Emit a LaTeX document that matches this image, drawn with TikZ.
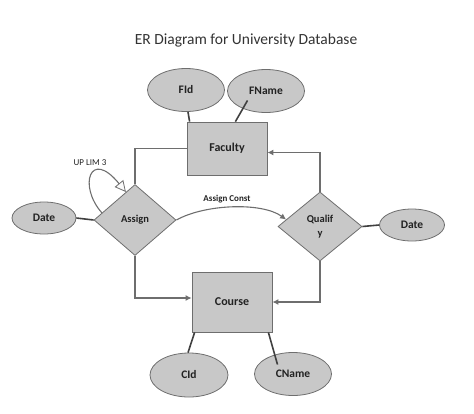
\documentclass[tikz,border=0pt]{standalone}
\usepackage{fontspec}
\setmainfont{Carlito}
\usetikzlibrary{shapes.geometric,arrows.meta,calc}
\definecolor{shapefill}{HTML}{C8C8C8}
\definecolor{edgecol}{HTML}{6E6E6E}
\definecolor{textcol}{HTML}{222222}
\tikzset{
  attr/.style={ellipse, draw=edgecol, fill=shapefill, line width=0.8pt, inner sep=0pt, font=\bfseries\fontsize{11.5}{13}\selectfont, text=textcol},
  entity/.style={rectangle, draw=edgecol, fill=shapefill, line width=0.8pt, inner sep=0pt, font=\bfseries\fontsize{12}{14}\selectfont, text=textcol},
  rel/.style={diamond, draw=edgecol, fill=shapefill, line width=0.8pt, inner sep=0pt, font=\bfseries\fontsize{10.5}{14}\selectfont, text=textcol, align=center},
  conn/.style={draw=edgecol, line width=1.1pt},
  attrline/.style={draw=black!75, line width=1.6pt},
  arr/.style={conn, -{Latex[length=6pt,width=6pt]}},
  smalltext/.style={font=\fontsize{9}{11}\selectfont, text=textcol, inner sep=0pt}
}
\begin{document}
\begin{tikzpicture}[x=1pt,y=-1pt]
\useasboundingbox (0,0) rectangle (474,413);
\node[font=\fontsize{15.5}{18}\selectfont, text=black!80] (title) at (246,40) {ER Diagram for University Database};

\node[entity, minimum width=80pt, minimum height=53pt] (faculty) at (227,148.5) {Faculty};
\node[entity, minimum width=80pt, minimum height=60pt] (course) at (232,302) {Course};

\node[attr, minimum width=77pt, minimum height=43pt] (fid) at (186,90) {FId};
\node[attr, minimum width=77pt, minimum height=43pt] (fname) at (266,91) {FName};
\node[attr, minimum width=78pt, minimum height=44pt] (cid) at (189,375) {CId};
\node[attr, minimum width=77pt, minimum height=43pt] (cname) at (293,374) {CName};

\node[rel, minimum width=82pt, minimum height=71pt] (assign) at (135,220) {Assign};
\node[rel, minimum width=84pt, minimum height=69pt] (qualify) at (320,226.5) {Qualif\\y};

\node[attr, minimum width=64pt, minimum height=32pt] (date1) at (44,218) {Date};
\node[attr, minimum width=65pt, minimum height=32pt] (date2) at (412,225) {Date};

% attribute links
\draw[attrline] ($(fid.south)+(2,0)$) -- ($(faculty.north west)+(3,0)$);
\draw[attrline] ($(fname.south west)+(9,-6)$) -- ($(faculty.north east)+(-32,0)$);
\draw[attrline] ($(course.south west)+(3,0)$) -- ($(cid.north)+(-1,0)$);
\draw[attrline] ($(course.south east)+(-4,0)$) -- ($(cname.north west)+(12,6)$);
\draw[attrline] (date1.east) -- (assign.west);
\draw[attrline] (date2.west) -- (qualify.east);

% relationship links
\draw[conn] (assign.north) |- (faculty.west);
\draw[arr] (qualify.north) |- ($(faculty.east)+(0,4)$);
\draw[arr] (assign.south) |- ($(course.west)+(0,-4)$);
\draw[arr] (qualify.south) |- (course.east);

% self loop
\coordinate (ls) at ($(assign.west)!0.2!(assign.north)$);
\coordinate (lt) at ($(assign.west)!0.78!(assign.north)$);
\draw[conn, -{Triangle[open, fill=white!90!shapefill, length=11pt, width=11pt, line width=0.8pt]}] (ls) .. controls (78,186) and (90,148) .. (lt);
\node[smalltext] (uplim) at (90,163) {UP LIM 3};

% Assign Const
\coordinate (ct) at ($(qualify.west)!0.2!(qualify.north)$);
\draw[arr] (assign.east) .. controls (205,204) and (262,202) .. (ct);
\node[smalltext, font=\fontsize{9}{11}\selectfont\bfseries] (aconst) at (227,199) {Assign Const};
\end{tikzpicture}
\end{document}
